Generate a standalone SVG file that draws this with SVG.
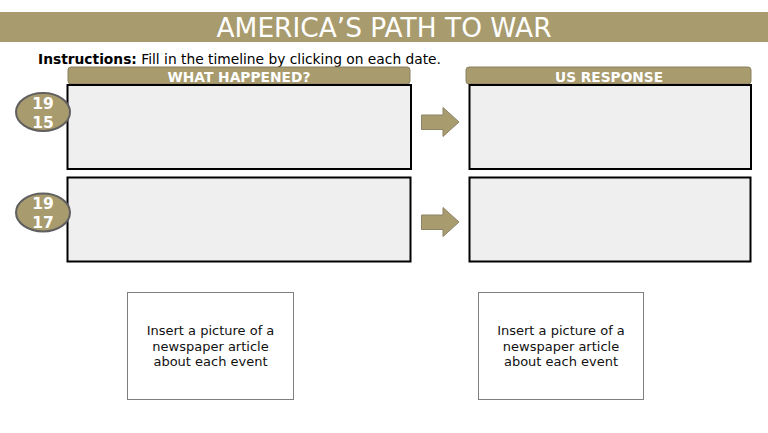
<svg xmlns="http://www.w3.org/2000/svg" width="768" height="433" viewBox="0 0 768 433">
<style>
.gold{fill:#a89b6e}
.tab{fill:#a89b6e;stroke:#8a8060;stroke-width:1}
.box{fill:#efefef;stroke:#000;stroke-width:2}
.date{fill:#a89b6e;stroke:#5f5f5f;stroke-width:2}
.arrow{fill:#a89b6e;stroke:#8c8466;stroke-width:1}
.pic{fill:#fff;stroke:#7f7f7f;stroke-width:1}
text{font-family:"DejaVu Sans","Liberation Sans",sans-serif}
.wt{fill:#fff;font-weight:bold;text-anchor:middle}
.pt{font-size:13px;fill:#111;text-anchor:middle}
</style>
<rect width="768" height="433" fill="#fff"/>
<g id="title">
<rect x="0" y="12" width="768" height="30" class="gold"/>
<text x="384" y="37" font-size="26" fill="#fff" text-anchor="middle" textLength="335" lengthAdjust="spacingAndGlyphs">AMERICA’S PATH TO WAR</text>
</g>
<g id="instructions">
<text x="38" y="64" font-size="14" fill="#000" textLength="403" lengthAdjust="spacingAndGlyphs"><tspan font-weight="bold">Instructions:</tspan> Fill in the timeline by clicking on each date.</text>
</g>
<g id="tab-what">
<rect x="68" y="67" width="342" height="17" rx="3" class="tab"/>
<text x="239" y="81.5" font-size="14" class="wt" textLength="143" lengthAdjust="spacingAndGlyphs">WHAT HAPPENED?</text>
</g>
<g id="tab-us">
<rect x="466" y="67" width="285" height="17" rx="3" class="tab"/>
<text x="609" y="81.5" font-size="14" class="wt" textLength="108" lengthAdjust="spacingAndGlyphs">US RESPONSE</text>
</g>
<g id="event-1915">
<rect x="67.5" y="85" width="343.5" height="84" class="box"/>
</g>
<g id="response-1915">
<rect x="469.5" y="85" width="281.5" height="84" class="box"/>
</g>
<g id="event-1917">
<rect x="67.5" y="177.5" width="343" height="84" class="box"/>
</g>
<g id="response-1917">
<rect x="469.5" y="177.5" width="281" height="84" class="box"/>
</g>
<g id="date-1915">
<ellipse cx="43" cy="112" rx="27" ry="19" class="date"/>
<text x="43" y="109" font-size="15.5" class="wt">19</text>
<text x="43" y="128" font-size="15.5" class="wt">15</text>
</g>
<g id="date-1917">
<ellipse cx="43" cy="212.5" rx="27" ry="19" class="date"/>
<text x="43" y="209" font-size="15.5" class="wt">19</text>
<text x="43" y="228" font-size="15.5" class="wt">17</text>
</g>
<g id="connectors">
<polygon points="421.5,115 443,115 443,107.5 459,122 443,136.5 443,129.5 421.5,129.5" class="arrow"/>
<polygon points="421.5,215 443,215 443,207.5 459,222 443,236.5 443,229.5 421.5,229.5" class="arrow"/>
</g>
<g id="picture-left">
<rect x="127.5" y="292.5" width="166" height="107" class="pic"/>
<text x="210.5" y="335" class="pt">Insert a picture of a</text>
<text x="210.5" y="351" class="pt">newspaper article</text>
<text x="210.5" y="366" class="pt">about each event</text>
</g>
<g id="picture-right">
<rect x="478.5" y="292.5" width="165" height="107" class="pic"/>
<text x="561" y="335" class="pt">Insert a picture of a</text>
<text x="561" y="351" class="pt">newspaper article</text>
<text x="561" y="366" class="pt">about each event</text>
</g>
</svg>
